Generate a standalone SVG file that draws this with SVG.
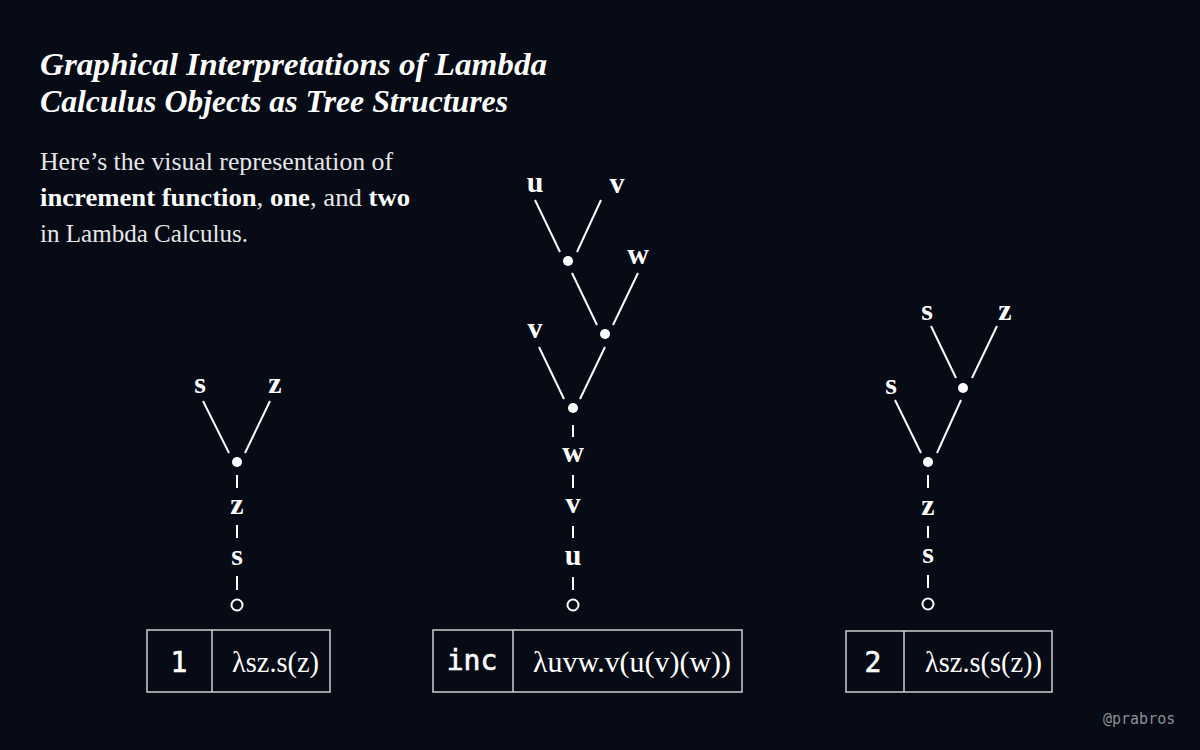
<svg xmlns="http://www.w3.org/2000/svg" width="1200" height="750" viewBox="0 0 1200 750">
<style>
.title{font-family:"Liberation Serif",serif;font-style:italic;font-weight:bold;font-size:32px;fill:#ffffff}
.para{font-family:"Liberation Serif",serif;font-size:25px;fill:#e6e6e6}
.b{font-weight:bold;fill:#ffffff}
.lbl{font-family:"Liberation Serif",serif;font-weight:bold;font-size:30px;fill:#ffffff;text-anchor:middle}
.edge{stroke:#ffffff;stroke-width:2;fill:none;stroke-linecap:butt}
.dot{fill:#ffffff}
.root{fill:none;stroke:#ffffff;stroke-width:2}
.box{fill:none;stroke:#cfcfcf;stroke-width:1.5}
.name{font-family:"DejaVu Sans Mono",monospace;font-size:28px;fill:#ffffff;stroke:#ffffff;stroke-width:0.6;text-anchor:middle}
.expr{font-family:"Liberation Serif",serif;font-size:29px;fill:#ffffff}
.sig{font-family:"DejaVu Sans Mono",monospace;font-size:15px;fill:#8a8f98}
</style>
<rect width="1200" height="750" fill="#060b16"/>
<g id="title">
<text class="title" x="40" y="75" textLength="507" lengthAdjust="spacingAndGlyphs">Graphical Interpretations of Lambda</text>
<text class="title" x="40" y="112" textLength="468" lengthAdjust="spacingAndGlyphs">Calculus Objects as Tree Structures</text>
</g>
<g id="description">
<text class="para" x="40" y="170" textLength="353" lengthAdjust="spacingAndGlyphs">Here’s the visual representation of</text>
<text class="para" x="40" y="206" textLength="370" lengthAdjust="spacingAndGlyphs"><tspan class="b">increment function</tspan>, <tspan class="b">one</tspan>, and <tspan class="b">two</tspan></text>
<text class="para" x="40" y="242" textLength="208" lengthAdjust="spacingAndGlyphs">in Lambda Calculus.</text>
</g>
<g id="connectors">
<!-- tree one -->
<line class="edge" x1="203" y1="401" x2="229" y2="453"/>
<line class="edge" x1="270" y1="401" x2="245" y2="453"/>
<line class="edge" x1="237" y1="475" x2="237" y2="488"/>
<line class="edge" x1="237" y1="525" x2="237" y2="538"/>
<line class="edge" x1="237" y1="576" x2="237" y2="590"/>
<!-- tree inc -->
<line class="edge" x1="535" y1="200" x2="560" y2="252"/>
<line class="edge" x1="601" y1="200" x2="577" y2="252"/>
<line class="edge" x1="572" y1="273" x2="597" y2="325"/>
<line class="edge" x1="638" y1="273" x2="613" y2="325"/>
<line class="edge" x1="539" y1="347" x2="564" y2="399"/>
<line class="edge" x1="605" y1="347" x2="580" y2="399"/>
<line class="edge" x1="573" y1="425" x2="573" y2="437"/>
<line class="edge" x1="573" y1="475" x2="573" y2="488"/>
<line class="edge" x1="573" y1="526" x2="573" y2="538"/>
<line class="edge" x1="573" y1="577" x2="573" y2="590"/>
<!-- tree two -->
<line class="edge" x1="931" y1="326" x2="956" y2="378"/>
<line class="edge" x1="997" y1="326" x2="972" y2="378"/>
<line class="edge" x1="895" y1="400" x2="921" y2="453"/>
<line class="edge" x1="961" y1="400" x2="937" y2="453"/>
<line class="edge" x1="928" y1="475" x2="928" y2="488"/>
<line class="edge" x1="928" y1="526" x2="928" y2="538"/>
<line class="edge" x1="928" y1="575" x2="928" y2="588"/>
</g>
<g id="tree-one">
<text class="lbl" x="200" y="393">s</text>
<text class="lbl" x="275" y="393">z</text>
<circle class="dot" cx="237" cy="462" r="5"/>
<text class="lbl" x="237" y="514">z</text>
<text class="lbl" x="237" y="565">s</text>
<circle class="root" cx="237" cy="605" r="5.5"/>
</g>
<g id="tree-inc">
<text class="lbl" x="535" y="192">u</text>
<text class="lbl" x="617" y="193">v</text>
<circle class="dot" cx="568" cy="261" r="5"/>
<text class="lbl" x="638" y="264">w</text>
<circle class="dot" cx="605" cy="334" r="5"/>
<text class="lbl" x="535" y="338">v</text>
<circle class="dot" cx="573" cy="408" r="5"/>
<text class="lbl" x="573" y="462">w</text>
<text class="lbl" x="573" y="513">v</text>
<text class="lbl" x="573" y="565">u</text>
<circle class="root" cx="573" cy="605" r="5.5"/>
</g>
<g id="tree-two">
<text class="lbl" x="927" y="320">s</text>
<text class="lbl" x="1005" y="320">z</text>
<circle class="dot" cx="963" cy="388" r="5"/>
<text class="lbl" x="891" y="394">s</text>
<circle class="dot" cx="928" cy="462" r="5"/>
<text class="lbl" x="928" y="515">z</text>
<text class="lbl" x="928" y="563">s</text>
<circle class="root" cx="928" cy="604" r="5.5"/>
</g>
<g id="box-one">
<rect class="box" x="147" y="630" width="183" height="62"/>
<line class="box" x1="212" y1="630" x2="212" y2="692"/>
<text class="name" x="179" y="672">1</text>
<text class="expr" x="232" y="672" textLength="87" lengthAdjust="spacingAndGlyphs">λsz.s(z)</text>
</g>
<g id="box-inc">
<rect class="box" x="433" y="630" width="309" height="62"/>
<line class="box" x1="513" y1="630" x2="513" y2="692"/>
<text class="name" x="472" y="670">inc</text>
<text class="expr" x="533" y="672" textLength="198" lengthAdjust="spacingAndGlyphs">λuvw.v(u(v)(w))</text>
</g>
<g id="box-two">
<rect class="box" x="846" y="631" width="206" height="61"/>
<line class="box" x1="904" y1="631" x2="904" y2="692"/>
<text class="name" x="873" y="672">2</text>
<text class="expr" x="925" y="672" textLength="117" lengthAdjust="spacingAndGlyphs">λsz.s(s(z))</text>
</g>
<g id="signature">
<text class="sig" x="1103" y="724">@prabros</text>
</g>
</svg>
